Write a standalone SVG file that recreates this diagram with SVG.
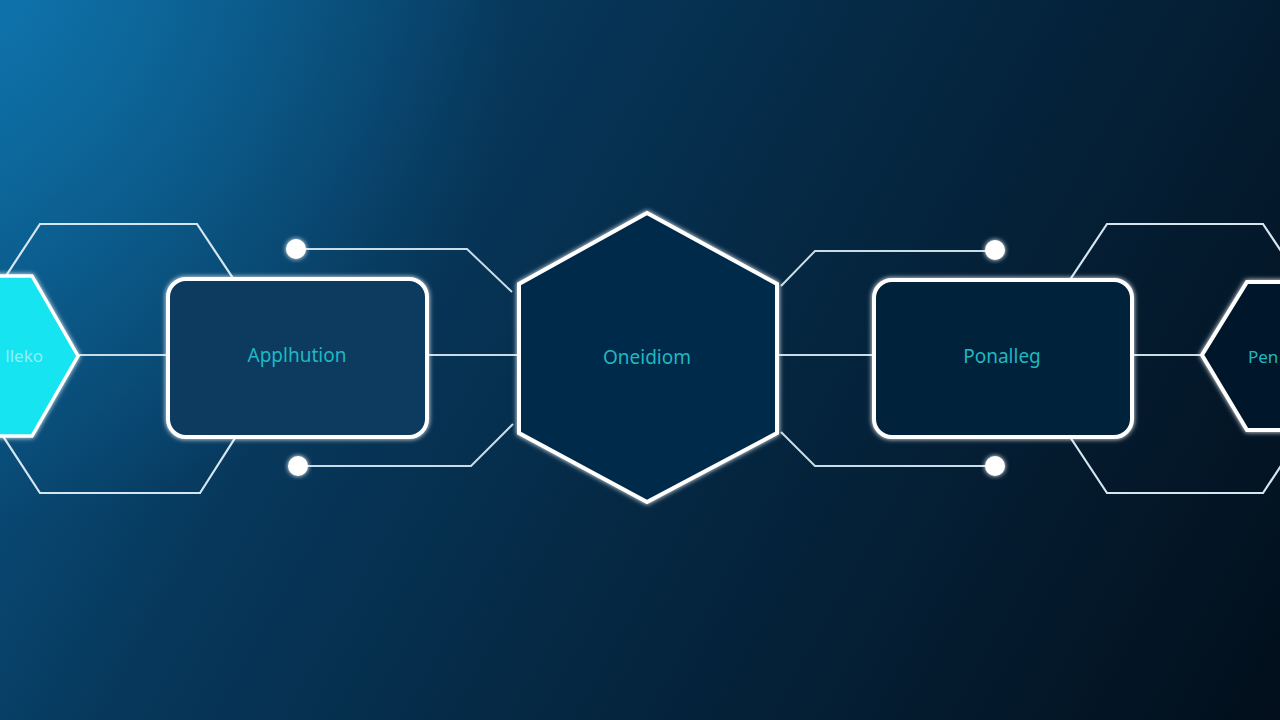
<svg xmlns="http://www.w3.org/2000/svg" width="1280" height="720" viewBox="0 0 1280 720">
<defs>
<linearGradient id="bg" x1="0" y1="0" x2="1280" y2="720" gradientUnits="userSpaceOnUse">
<stop offset="0" stop-color="#0a5c8e"/>
<stop offset="0.3" stop-color="#07385c"/>
<stop offset="0.55" stop-color="#052843"/>
<stop offset="0.8" stop-color="#041a2d"/>
<stop offset="1" stop-color="#020f1b"/>
</linearGradient>
<radialGradient id="glowTL" cx="0" cy="0" r="520" gradientUnits="userSpaceOnUse">
<stop offset="0" stop-color="#1285c2" stop-opacity="0.55"/>
<stop offset="1" stop-color="#1285c2" stop-opacity="0"/>
</radialGradient>
<filter id="glow" x="-20%" y="-20%" width="140%" height="140%">
<feGaussianBlur in="SourceGraphic" stdDeviation="2.5" result="b"/>
<feMerge><feMergeNode in="b"/><feMergeNode in="SourceGraphic"/></feMerge>
</filter>
</defs>
<style>
.thin{fill:none;stroke:#c9dde9;stroke-width:2}
.outline{fill:none;stroke:#d6e6f0;stroke-width:2.2}
.box{stroke:#ffffff;stroke-width:4}
.lbl{font-family:"Noto Sans","Liberation Sans",sans-serif;font-size:19px;fill:#1fb8c2;text-anchor:middle;dominant-baseline:central}
.dot{fill:#ffffff}
</style>
<rect width="1280" height="720" fill="url(#bg)"/>
<rect width="1280" height="720" fill="url(#glowTL)"/>

<g id="outline-left">
<polygon class="outline" points="40,224 197,224 286,358 200,493 40,493 -48,358"/>
</g>
<g id="outline-right">
<polygon class="outline" points="1107,224 1263,224 1352,358 1263,493 1107,493 1018,358"/>
</g>

<g id="connectors">
<line class="thin" x1="78" y1="355" x2="167" y2="355"/>
<line class="thin" x1="427" y1="355" x2="518" y2="355"/>
<line class="thin" x1="776" y1="355" x2="873" y2="355"/>
<line class="thin" x1="1132" y1="355" x2="1202" y2="355"/>
<polyline class="thin" points="296,249 467,249 512,292"/>
<polyline class="thin" points="298,466 471,466 513,424"/>
<polyline class="thin" points="781,286 815,251 995,251"/>
<polyline class="thin" points="781,432 815,466 995,466"/>
<circle class="dot" cx="296" cy="249" r="10" filter="url(#glow)"/>
<circle class="dot" cx="298" cy="466" r="10" filter="url(#glow)"/>
<circle class="dot" cx="995" cy="250" r="10" filter="url(#glow)"/>
<circle class="dot" cx="995" cy="466" r="10" filter="url(#glow)"/>
</g>

<g id="node-left">
<polygon points="-60,276 32,276 78,356 32,436 -60,436" fill="#14e4f0" stroke="#ffffff" stroke-width="3.5" filter="url(#glow)"/>
<text x="43" y="355" class="lbl" style="text-anchor:end;fill:#8ff0f6;font-size:17px">lleko</text>
</g>

<g id="node-application">
<rect class="box" x="168" y="279" width="259" height="158" rx="18" fill="#073a60" filter="url(#glow)"/>
<text x="297" y="355" class="lbl">Applhution</text>
</g>

<g id="node-center">
<polygon class="box" points="647,213 777,284 777,433 647,502 519,433 519,284" fill="#062b4a" stroke-width="5" filter="url(#glow)"/>
<text x="647" y="357" class="lbl">Oneidiom</text>
</g>

<g id="node-ponalleg">
<rect class="box" x="874" y="280" width="258" height="157" rx="18" fill="#04213a" filter="url(#glow)"/>
<text x="1002" y="356" class="lbl">Ponalleg</text>
</g>

<g id="node-right">
<polygon class="box" points="1202,355 1247,282 1300,282 1300,430 1247,430" fill="#04182b" filter="url(#glow)"/>
<text x="1248" y="356" class="lbl" style="text-anchor:start;font-size:17px">Pen</text>
</g>
</svg>
